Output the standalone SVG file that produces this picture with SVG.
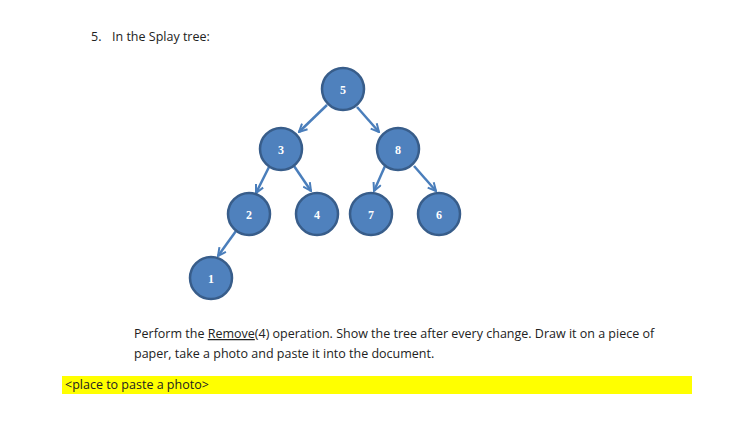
<svg xmlns="http://www.w3.org/2000/svg" width="747" height="436" viewBox="0 0 747 436">
<style>
.n circle{fill:#4f81bd;stroke:#385d8a;stroke-width:2.5}
.n text{fill:#fff;font-family:"Liberation Serif",serif;font-weight:bold;font-size:12px;text-anchor:middle}
.t{font-family:"Open Sans","Liberation Sans",sans-serif;font-size:12.5px;fill:#222}
#edges line{stroke:#4a7ebb;stroke-width:2.5}
</style>
<defs><marker id="a" viewBox="0 0 10 10" refX="9" refY="5" markerWidth="4" markerHeight="4" orient="auto" markerUnits="strokeWidth"><path d="M1,1 L9,5 L1,9" fill="none" stroke="#4a7ebb" stroke-width="2"/></marker></defs>
<rect width="747" height="436" fill="#fff"/>
<text class="t" x="91" y="41">5.</text>
<text class="t" x="112" y="41">In the Splay tree:</text>
<g id="edges">
<line x1="327" y1="105" x2="299" y2="132" marker-end="url(#a)"/>
<line x1="357" y1="107" x2="379" y2="132" marker-end="url(#a)"/>
<line x1="269" y1="167" x2="256" y2="193" marker-end="url(#a)"/>
<line x1="294" y1="166" x2="311" y2="191" marker-end="url(#a)"/>
<line x1="385" y1="166" x2="374" y2="191" marker-end="url(#a)"/>
<line x1="414" y1="166" x2="436" y2="191" marker-end="url(#a)"/>
<line x1="236" y1="231" x2="218" y2="256" marker-end="url(#a)"/>
</g>
<g id="n5" class="n"><circle cx="343" cy="89" r="21"/><text x="343" y="94">5</text></g>
<g id="n3" class="n"><circle cx="281" cy="149" r="21"/><text x="281" y="154">3</text></g>
<g id="n8" class="n"><circle cx="398" cy="149" r="21"/><text x="398" y="154">8</text></g>
<g id="n2" class="n"><circle cx="249" cy="214" r="21"/><text x="249" y="219">2</text></g>
<g id="n4" class="n"><circle cx="317" cy="214" r="21"/><text x="317" y="219">4</text></g>
<g id="n7" class="n"><circle cx="371" cy="214" r="21"/><text x="371" y="219">7</text></g>
<g id="n6" class="n"><circle cx="439" cy="214" r="21"/><text x="439" y="219">6</text></g>
<g id="n1" class="n"><circle cx="211" cy="278" r="21"/><text x="211" y="283">1</text></g>
<text class="t" x="134" y="338">Perform the <tspan text-decoration="underline">Remove</tspan>(4) operation. Show the tree after every change. Draw it on a piece of</text>
<text class="t" x="134" y="358">paper, take a photo and paste it into the document.</text>
<rect x="62" y="376" width="630" height="18" fill="#ffff00"/>
<text class="t" x="65" y="389">&lt;place to paste a photo&gt;</text>
</svg>
